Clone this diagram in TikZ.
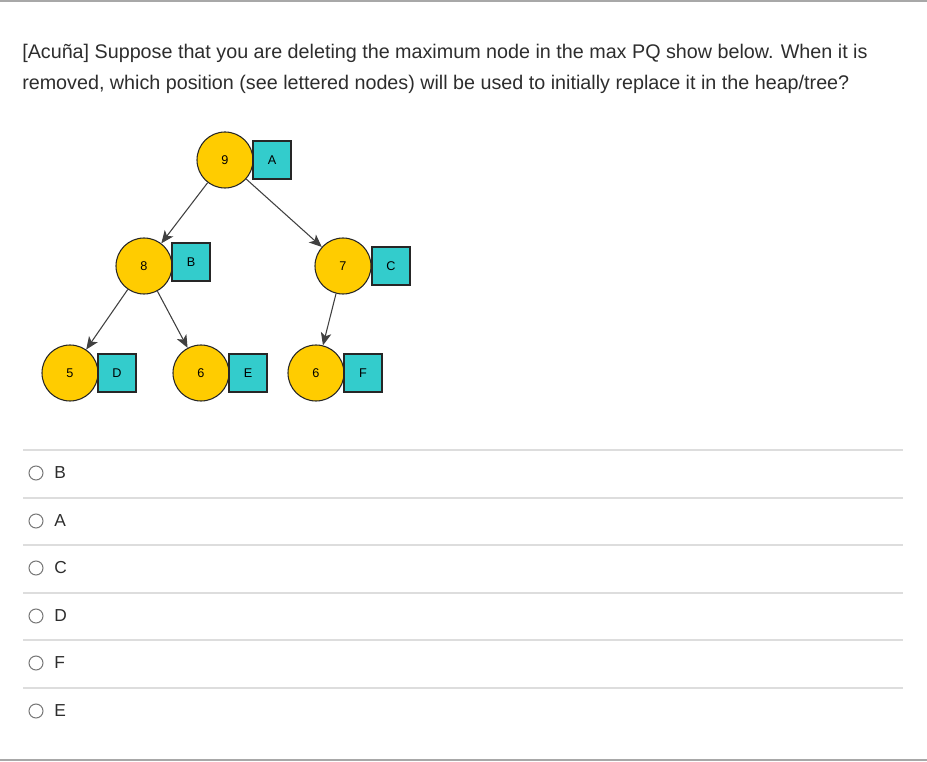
\documentclass[tikz,border=0pt]{standalone}
\usepackage{fontspec}
\setmainfont{Liberation Sans}
\usetikzlibrary{arrows.meta}

\definecolor{heapgold}{HTML}{FFCC00}
\definecolor{posteal}{HTML}{33CCCC}
\definecolor{rulegray}{HTML}{DDDDDD}
\definecolor{framegray}{HTML}{A8A8A8}
\definecolor{radiogray}{HTML}{777777}
\definecolor{qtext}{HTML}{2D2D2D}

\tikzset{
  keynode/.style={circle, draw=black!85, line width=0.8pt, fill=heapgold, minimum size=42pt, inner sep=0pt, font=\fontsize{9.5}{11}\selectfont},
  posbox/.style={rectangle, draw=black!85, line width=0.8pt, fill=posteal, minimum size=28.5pt, inner sep=0pt, font=\fontsize{9.5}{11}\selectfont},
  heapedge/.style={draw=black!75, line width=0.8pt, -{Stealth[length=9.5pt,width=8pt,inset=2.5pt]}},
  qline/.style={anchor=base west, inner sep=0pt, text=qtext, font=\fontsize{14.8}{17}\selectfont},
  radio/.style={circle, draw=radiogray, line width=0.8pt, minimum size=10.5pt, inner sep=0pt},
  optlabel/.style={anchor=west, inner sep=0pt, text=qtext, font=\fontsize{13}{15}\selectfont}
}

\begin{document}
\begin{tikzpicture}[x=0.75pt, y=-0.75pt]
		\useasboundingbox (0,0) rectangle (927,762);
		
		% frame lines
		\draw[framegray, line width=1.1pt] (0,1) -- (927,1);
		\draw[framegray, line width=1.5pt] (0,760) -- (927,760);
		
		% question
		\node[qline] (q1) at (22,59) {[Acuña] Suppose that you are deleting the maximum node in the max PQ show below. When it is};
		\node[qline] (q2) at (22,90) {removed, which position (see lettered nodes) will be used to initially replace it in the heap/tree?};
		
		% Row 1: root
		\node[keynode] (n9) at (225,160) {9};
		\node[posbox] (pA) at (272,160) {A};
		
		% Row 2
		\node[keynode] (n8) at (144,266) {8};
		\node[posbox] (pB) at (191,262) {B};
		\node[keynode] (n7) at (343,266) {7};
		\node[posbox] (pC) at (391,266) {C};
		
		% Row 3
		\node[keynode] (n5) at (70,373) {5};
		\node[posbox] (pD) at (117,373) {D};
		\node[keynode] (n6e) at (201,373) {6};
		\node[posbox] (pE) at (248,373) {E};
		\node[keynode] (n6f) at (316,373) {6};
		\node[posbox] (pF) at (363,373) {F};
		
		% heap edges
		\draw[heapedge] (n9) -- (n8);
		\draw[heapedge] (n9) -- (n7);
		\draw[heapedge] (n8) -- (n5);
		\draw[heapedge] (n8) -- (n6e);
		\draw[heapedge] (n7) -- (n6f);
		
		% answer options
		\foreach \lbl/\yy in {B/473,A/521,C/568,D/616,F/663,E/711} {
			\draw[rulegray, line width=0.8pt] (23,\yy-23) -- (903,\yy-23);
			\node[radio] (radio\lbl) at (36,\yy) {};
			\node[optlabel] (opt\lbl) at (54,\yy) {\lbl};
		}
		
	\end{tikzpicture}
\end{document}
